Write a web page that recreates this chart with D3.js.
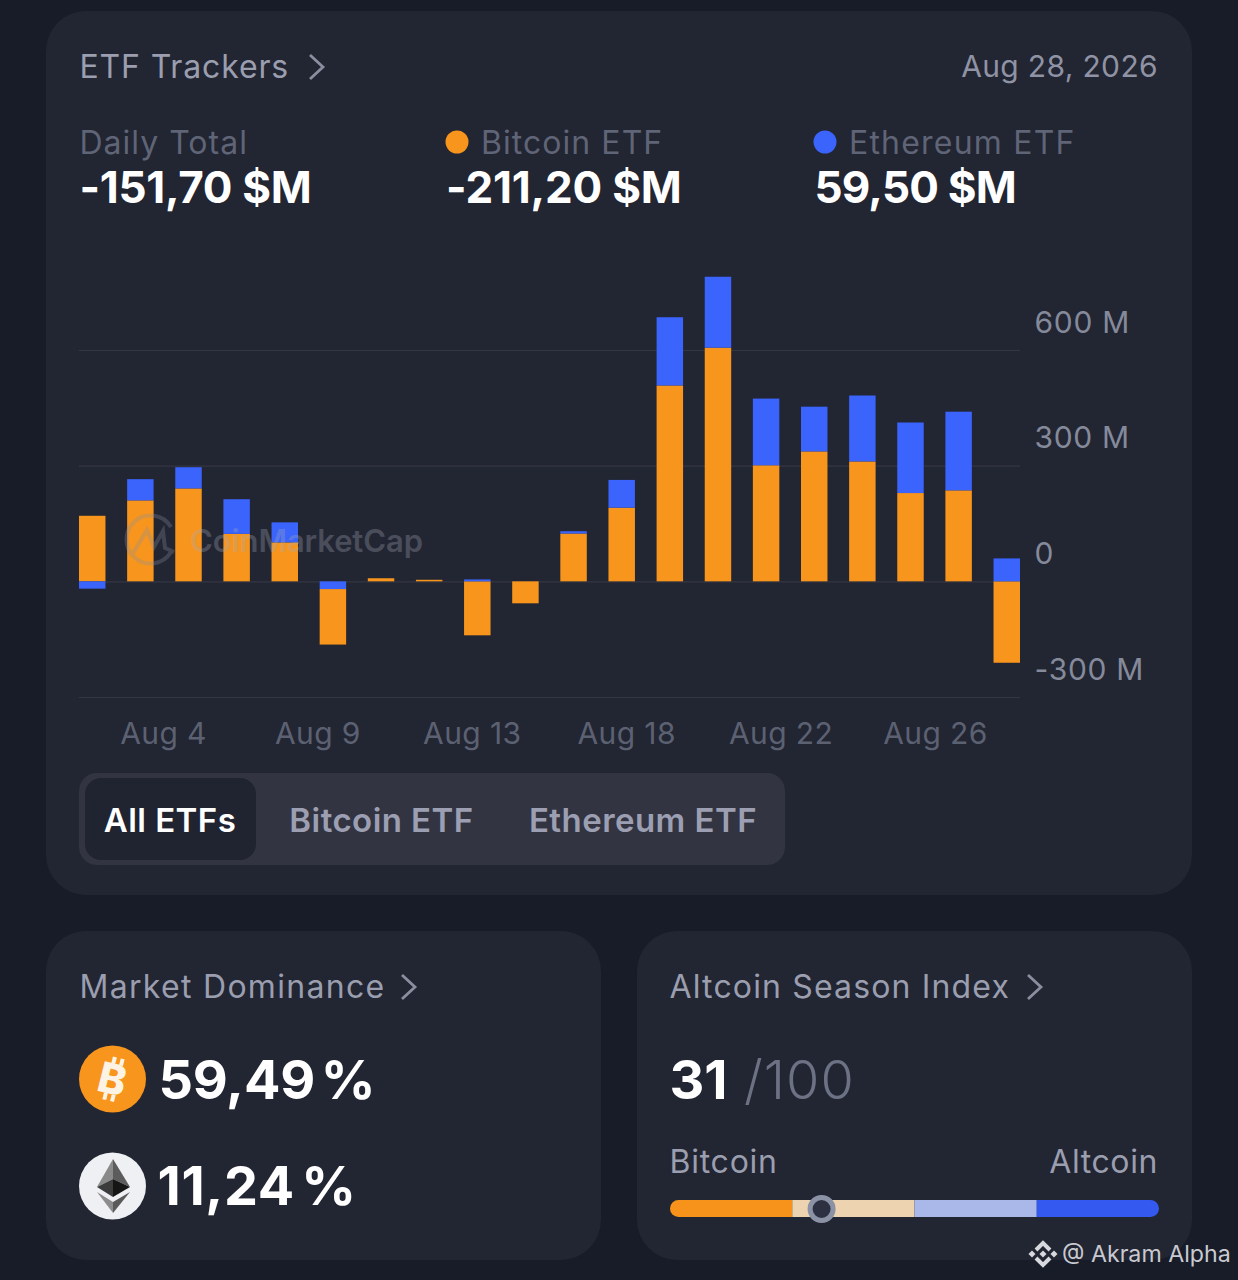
<!DOCTYPE html>
<html>
<head>
<meta charset="utf-8">
<script src="https://d3js.org/d3.v7.min.js"></script>
<style>
    html, body { margin: 0; padding: 0; background: #181b28; }
    svg { display: block; }
    text { font-family: Inter, "Noto Sans", sans-serif; }
</style>
</head>
<body>
<svg id="chart"></svg>
<script>
const days = ["Aug 1", "Aug 2", "Aug 3", "Aug 4", "Aug 5", "Aug 6", "Aug 7", "Aug 8", "Aug 9", "Aug 10",
    "Aug 11", "Aug 12", "Aug 13", "Aug 14", "Aug 15", "Aug 16", "Aug 17", "Aug 18", "Aug 19", "Aug 20"];
const bitcoinFlow = [170, 210, 241, 123, 101, -144, 8, 4, -140, -57, 124, 191, 508, 606, 301, 337, 311, 229, 236, -211.2];
const ethereumFlow = [-19, 55, 55, 90, 52, -20, 0, 0, 5, 0, 6, 72, 177, 184, 173, 116, 171, 183, 204, 59.5];
const xTickLabels = ["Aug 4", "Aug 9", "Aug 13", "Aug 18", "Aug 22", "Aug 26"];
const yTicks = [-300, 0, 300, 600];
const tabLabels = ["All ETFs", "Bitcoin ETF", "Ethereum ETF"];
const seasonStops = [0, 25, 50, 75, 100];
const seasonColors = ["#f7931a", "#edd3b0", "#a9b8e8", "#3459f0"];
const seasonIndex = 31;

const ORANGE = "#f7951d";
const BLUE = "#3a64fb";
const WIDTH = 1238, HEIGHT = 1280;

const svg = d3.select("#chart").attr("width", WIDTH).attr("height", HEIGHT);

// helper for the many one-off labels
function label(txt, x, y, size, fill, weight = 400, anchor = "start", spacing = 0) {
    return svg.append("text")
        .attr("x", x).attr("y", y)
        .attr("font-size", size)
        .attr("font-weight", weight)
        .attr("fill", fill)
        .attr("text-anchor", anchor)
        .attr("letter-spacing", spacing)
        .text(txt);
}

function chevron(x, y) {
    svg.append("path")
        .attr("d", `M${x},${y - 12}L${x + 13},${y}L${x},${y + 12}`)
        .attr("fill", "none")
        .attr("stroke", "#8a8e9f")
        .attr("stroke-width", 2.8);
}

// cards
[[46, 11, 1146, 884], [46, 931, 555, 329], [637, 931, 555, 329]].forEach(c => {
    svg.append("rect")
        .attr("x", c[0]).attr("y", c[1])
        .attr("width", c[2]).attr("height", c[3])
        .attr("rx", 40)
        .attr("fill", "#222532");
});

// header
label("ETF Trackers", 79.5, 78, 32, "#9a9eaf", 400, "start", 0.85);
chevron(310, 67);
label("Aug 28, 2026", 1158, 77, 30, "#8f93a4", 400, "end", 0.35);

label("Daily Total", 79.5, 154, 32, "#5f6476", 400, "start", 1);
label("-151,70 $M", 79.5, 203, 44, "#ffffff", 700, "start", -0.3);

svg.append("circle").attr("cx", 457).attr("cy", 142).attr("r", 11.5).attr("fill", ORANGE);
label("Bitcoin ETF", 481, 154, 32, "#5f6476", 400, "start", 1.05);
label("-211,20 $M", 446, 203, 44, "#ffffff", 700, "start", -0.2);

svg.append("circle").attr("cx", 825).attr("cy", 142).attr("r", 11.5).attr("fill", BLUE);
label("Ethereum ETF", 849, 154, 32, "#5f6476", 400, "start", 1.2);
label("59,50 $M", 814.5, 203, 44, "#ffffff", 700, "start", -0.8);

// scales
const xBand = d3.scaleBand().domain(days).range([79, 1020]).paddingInner(0.45).paddingOuter(0);
const yScale = d3.scaleLinear().domain([-300, 600]).range([697, 350]);
const xLabels = d3.scalePoint().domain(xTickLabels).range([163, 935]);

// y axis with gridlines, labels sit above their line
const yAxis = svg.append("g")
    .attr("transform", "translate(1020,0)")
    .call(d3.axisRight(yScale)
        .tickValues(yTicks)
        .tickSize(-941)
        .tickPadding(15)
        .tickFormat(d => d === 0 ? "0" : `${d} M`));
yAxis.select(".domain").remove();
yAxis.selectAll("line").attr("stroke", "#343743").attr("stroke-width", 1.2);
yAxis.selectAll("text")
    .attr("x", 14.5)
    .attr("dy", -18)
    .attr("font-size", 30)
    .attr("letter-spacing", 0.7)
    .attr("fill", "#858a9b");

// x axis
const xAxis = svg.append("g")
    .attr("transform", "translate(0,697)")
    .call(d3.axisBottom(xLabels).tickSize(0).tickPadding(26));
xAxis.select(".domain").remove();
xAxis.selectAll("text")
    .attr("font-size", 30)
    .attr("letter-spacing", 0.4)
    .attr("fill", "#5c6172");

// stacked bars: bitcoin sits on zero above, ethereum sits on zero below
const bars = days.map((day, i) => {
    const btc = bitcoinFlow[i], eth = ethereumFlow[i];
    const btcBase = btc < 0 ? Math.min(eth, 0) : 0;
    const ethBase = eth >= 0 ? Math.max(btc, 0) : 0;
    return { day, btcFrom: btcBase, btcTo: btcBase + btc, ethFrom: ethBase, ethTo: ethBase + eth };
});

function drawSeries(from, to, color) {
    svg.append("g").selectAll("rect")
        .data(bars.filter(d => d[from] !== d[to]))
        .join("rect")
        .attr("x", d => xBand(d.day))
        .attr("width", xBand.bandwidth())
        .attr("y", d => Math.min(yScale(d[from]), yScale(d[to])))
        .attr("height", d => Math.abs(yScale(d[from]) - yScale(d[to])))
        .attr("fill", color);
}
drawSeries("btcFrom", "btcTo", ORANGE);
drawSeries("ethFrom", "ethTo", BLUE);

// CoinMarketCap watermark over the bars
const mark = svg.append("g").attr("opacity", 0.3);
mark.append("path")
    .attr("d", "M171,552A24,24 0 1 1 171,527")
    .attr("fill", "none").attr("stroke", "#8b8f9f").attr("stroke-width", 4);
mark.append("path")
    .attr("d", "M133,553L147,530L154,547L163,531L165,548L174,552")
    .attr("fill", "none").attr("stroke", "#8b8f9f").attr("stroke-width", 4);
mark.append("text")
    .attr("x", 190).attr("y", 552)
    .attr("font-size", 31).attr("font-weight", 600)
    .attr("letter-spacing", -0.1)
    .attr("fill", "#a6aab8")
    .text("CoinMarketCap");

// tabs
svg.append("rect").attr("x", 79).attr("y", 773).attr("width", 706).attr("height", 92).attr("rx", 18).attr("fill", "#323441");
svg.append("rect").attr("x", 85).attr("y", 778).attr("width", 171).attr("height", 82).attr("rx", 16).attr("fill", "#202330");
const tabX = [170, 381.5, 643];
tabLabels.forEach((t, i) => {
    label(t, tabX[i], 832, 33, i === 0 ? "#ffffff" : "#9c9fb2", 600, "middle", 0.45);
});

// market dominance
label("Market Dominance", 79.5, 998, 32, "#9a9eaf", 400, "start", 1.3);
chevron(402, 987);

svg.append("circle").attr("cx", 112.5).attr("cy", 1079).attr("r", 33.5).attr("fill", ORANGE);
const btcGlyph = svg.append("g").attr("transform", "translate(112.5,1079) rotate(14)").attr("fill", "#fdf3e4");
btcGlyph.append("text")
    .attr("y", 15).attr("text-anchor", "middle")
    .attr("font-size", 42).attr("font-weight", 800)
    .text("B");
[[-5, -22], [3, -22], [-5, 15], [3, 15]].forEach(t => {
    btcGlyph.append("rect").attr("x", t[0]).attr("y", t[1]).attr("width", 4).attr("height", 7);
});
label("59,49 %", 158.5, 1099, 54, "#ffffff", 700, "start", -0.2).attr("word-spacing", -7);

svg.append("circle").attr("cx", 112.5).attr("cy", 1186).attr("r", 33.5).attr("fill", "#eef0f4");
[
    ["M113,1159L97,1187L113,1179Z", "#8a8a8a"],
    ["M113,1159L130,1187L113,1179Z", "#5c5c5c"],
    ["M113,1179L97,1187L113,1197Z", "#3c3c3c"],
    ["M113,1179L130,1187L113,1197Z", "#161616"],
    ["M97,1192L113,1202L113,1213Z", "#8c8c8c"],
    ["M130,1192L113,1202L113,1213Z", "#5a5a5a"]
].forEach(p => svg.append("path").attr("d", p[0]).attr("fill", p[1]));
label("11,24 %", 157.5, 1205, 54, "#ffffff", 700, "start", 0.6).attr("word-spacing", -7);

// altcoin season index
label("Altcoin Season Index", 669.5, 998, 32, "#9a9eaf", 400, "start", 1.15);
chevron(1028, 987);
label(String(seasonIndex), 669.5, 1099, 54, "#ffffff", 700, "start", 0);
label("/100", 744, 1099, 54, "#6c7284", 300, "start", 1);
label("Bitcoin", 669.5, 1173, 32, "#9a9eaf", 400, "start", 0.75);
label("Altcoin", 1158, 1173, 32, "#9a9eaf", 400, "end", 0.6);

const seasonScale = d3.scaleLinear().domain([0, 100]).range([670, 1159]);
svg.append("clipPath").attr("id", "season-clip")
    .append("rect")
    .attr("x", seasonScale(0)).attr("y", 1200)
    .attr("width", seasonScale(100) - seasonScale(0)).attr("height", 17)
    .attr("rx", 8.5);
svg.append("g").attr("clip-path", "url(#season-clip)")
    .selectAll("rect")
    .data(seasonColors)
    .join("rect")
    .attr("x", (d, i) => seasonScale(seasonStops[i]))
    .attr("y", 1200)
    .attr("width", (d, i) => seasonScale(seasonStops[i + 1]) - seasonScale(seasonStops[i]))
    .attr("height", 17)
    .attr("fill", d => d);
svg.append("circle")
    .attr("cx", seasonScale(seasonIndex)).attr("cy", 1209)
    .attr("r", 11.5)
    .attr("fill", "#2c3040")
    .attr("stroke", "#8c92a5")
    .attr("stroke-width", 5);

// credit in the corner
const binance = svg.append("g");
["M1036,1250L1043,1243L1050,1250", "M1036,1258L1043,1265L1050,1258"].forEach(d => {
    binance.append("path").attr("d", d).attr("fill", "none").attr("stroke", "#d8d9de").attr("stroke-width", 4);
});
[[1032, 1254], [1054, 1254], [1043, 1254]].forEach(s => {
    binance.append("rect")
        .attr("x", -2.5).attr("y", -2.5)
        .attr("width", 5).attr("height", 5)
        .attr("fill", "#d8d9de")
        .attr("transform", `translate(${s[0]},${s[1]}) rotate(45)`);
});
label("@ Akram Alpha", 1062, 1262, 23.2, "#c9cad1", 400);
</script>
</body>
</html>
